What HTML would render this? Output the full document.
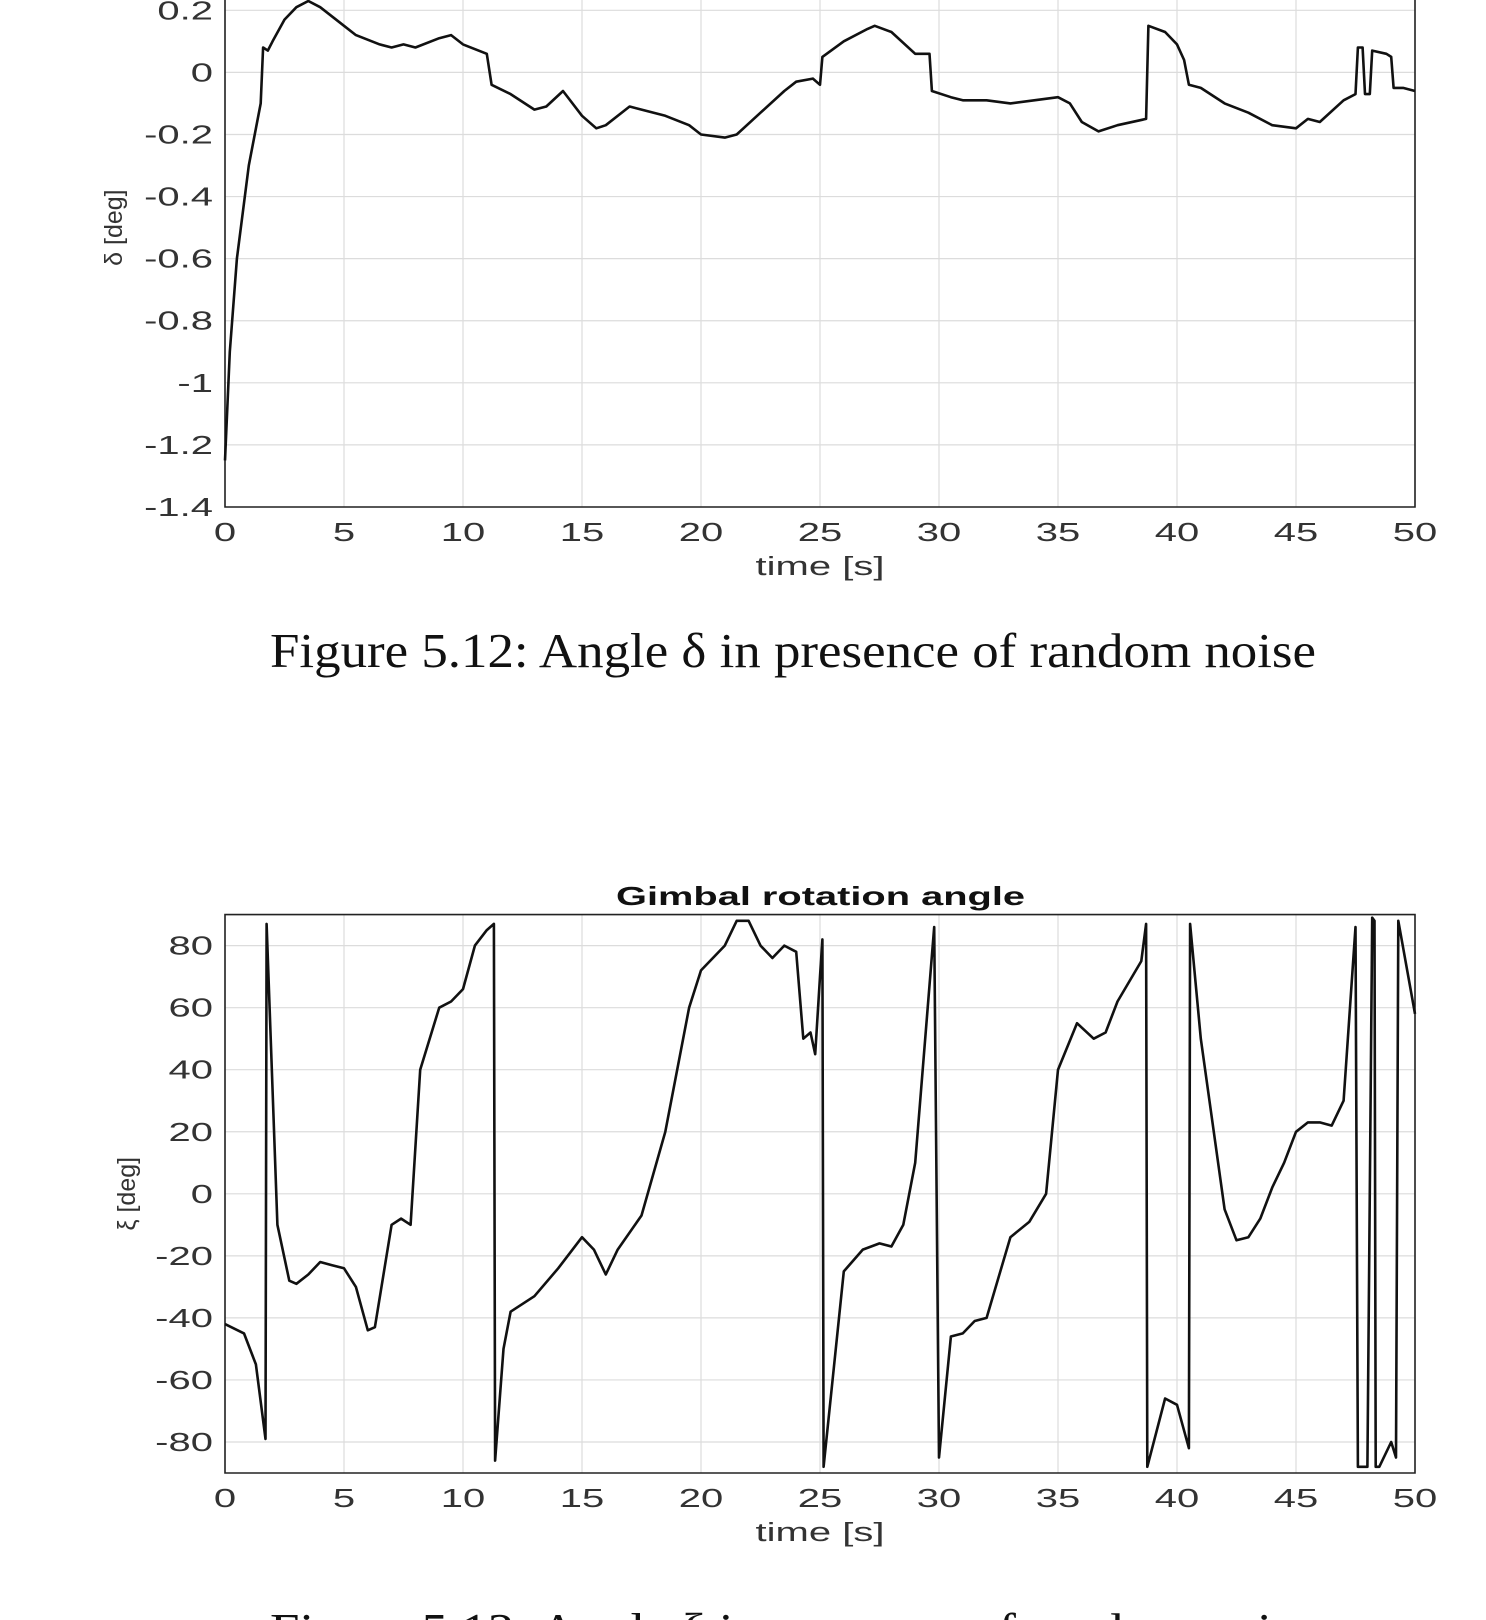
<!DOCTYPE html>
<html><head><meta charset="utf-8"><style>
html,body{margin:0;padding:0;background:#fff;}
svg{display:block;}
.tk{font-family:"Liberation Sans",sans-serif;font-size:25px;fill:#333;}
.cap{font-family:"Liberation Serif","DejaVu Serif",serif;font-size:49px;fill:#111;}
</style></head><body>
<svg id="svg" width="1486" height="1620" viewBox="0 0 1486 1620">
<text class="cap" x="270" y="667" textLength="1046" lengthAdjust="spacingAndGlyphs">Figure 5.12:  Angle δ in presence of random noise</text>
<text class="cap" x="270" y="1647" textLength="1046" lengthAdjust="spacingAndGlyphs">Figure 5.13:  Angle ξ in presence of random noise</text>
<text x="616" y="905" textLength="409" lengthAdjust="spacingAndGlyphs" style="font-family:'Liberation Sans',sans-serif;font-weight:bold;font-size:26px;fill:#111">Gimbal rotation angle</text>
</svg>
<script>
const xTicks=[0,5,10,15,20,25,30,35,40,45,50];
const d1Ticks=[0.2,0,-0.2,-0.4,-0.6,-0.8,-1,-1.2,-1.4];
const d1Labels=["0.2","0","-0.2","-0.4","-0.6","-0.8","-1","-1.2","-1.4"];
const deltaT=[0,0.2,0.5,1.0,1.5,1.6,1.8,2.0,2.5,3.0,3.5,4,5,5.5,6.5,7,7.5,8,9,9.5,10,11,11.2,12,13,13.5,14.2,15,15.6,16,17,17.5,18.5,19.5,20,21,21.5,22.5,23.5,24,24.7,25,25.1,26,27,27.3,28,29,29.6,29.7,30.5,31,32,33,34,35,35.5,36,36.7,37.5,38.7,38.8,39.5,40,40.3,40.5,41,42,43,44,45,45.5,46,47,47.5,47.6,47.8,47.9,48.1,48.2,48.8,49,49.1,49.5,50];
const deltaV=[-1.25,-0.9,-0.6,-0.3,-0.1,0.08,0.07,0.1,0.17,0.21,0.23,0.21,0.15,0.12,0.09,0.08,0.09,0.08,0.11,0.12,0.09,0.06,-0.04,-0.07,-0.12,-0.11,-0.06,-0.14,-0.18,-0.17,-0.11,-0.12,-0.14,-0.17,-0.2,-0.21,-0.2,-0.13,-0.06,-0.03,-0.02,-0.04,0.05,0.1,0.14,0.15,0.13,0.06,0.06,-0.06,-0.08,-0.09,-0.09,-0.1,-0.09,-0.08,-0.1,-0.16,-0.19,-0.17,-0.15,0.15,0.13,0.09,0.04,-0.04,-0.05,-0.1,-0.13,-0.17,-0.18,-0.15,-0.16,-0.09,-0.07,0.08,0.08,-0.07,-0.07,0.07,0.06,0.05,-0.05,-0.05,-0.06];
const xiTicks=[80,60,40,20,0,-20,-40,-60,-80];
const xiT=[0,0.8,1.3,1.7,1.75,2.2,2.7,3,3.5,4,4.5,5,5.5,6,6.3,7,7.4,7.8,8.2,9,9.5,10,10.5,11,11.3,11.35,11.7,12,13,14,15,15.5,16,16.5,17.5,18.5,19.5,20,21,21.5,22,22.5,23,23.5,24,24.3,24.6,24.8,25,25.1,25.15,26,26.8,27.5,28,28.5,29,29.8,30,30.5,31,31.5,32,33,33.8,34.5,35,35.8,36.5,37,37.5,38.5,38.7,38.75,39.5,40,40.5,40.55,41,42,42.5,43,43.5,44,44.5,45,45.5,46,46.5,47,47.5,47.6,48,48.2,48.3,48.35,48.5,49,49.2,49.3,50];
const xiV=[-42,-45,-55,-79,87,-10,-28,-29,-26,-22,-23,-24,-30,-44,-43,-10,-8,-10,40,60,62,66,80,85,87,-86,-50,-38,-33,-24,-14,-18,-26,-18,-7,20,60,72,80,88,88,80,76,80,78,50,52,45,70,82,-88,-25,-18,-16,-17,-10,10,86,-85,-46,-45,-41,-40,-14,-9,0,40,55,50,52,62,75,87,-88,-66,-68,-82,87,50,-5,-15,-14,-8,2,10,20,23,23,22,30,86,-88,-88,89,88,-88,-88,-80,-85,88,58];

const NS="http://www.w3.org/2000/svg";
const svg=document.getElementById('svg');
const SX=1.6;
function mk(tag,attrs,parent){const e=document.createElementNS(NS,tag);for(const k in attrs)e.setAttribute(k,attrs[k]);(parent||svg).appendChild(e);return e;}
function stext(g,x,y,anchor,str){
  return mk('text',{x:0,y:0,'text-anchor':anchor,class:'tk',transform:`translate(${x} ${y}) scale(${SX} 1.05)`},g);
}
function chart(pfx,L,R,T,B,ymin,ymax,yt,ylabs,xs,ys,ylab,ylabX){
  const g=mk('g',{});
  
  
  const sx=t=>L+(t-0)/(50-0)*(R-L);
  const sy=v=>B-(v-ymin)/(ymax-ymin)*(B-T);
  xTicks.forEach(t=>{
    const l=mk('line',{x1:sx(t),x2:sx(t),y1:T,y2:B,stroke:'#dcdcdc','stroke-width':1.2},g);
    
    
    const tx=stext(g,sx(t),B+34,'middle');
    tx.textContent=t;
    
    
  });
  yt.forEach((v,i)=>{
    const l=mk('line',{x1:L,x2:R,y1:sy(v),y2:sy(v),stroke:'#dcdcdc','stroke-width':1.2},g);
    
    
    const tx=stext(g,L-12,sy(v)+9,'end');
    tx.textContent=ylabs?ylabs[i]:v;
    
    
  });
  const ax=mk('path',{d:`M${L},${T}H${R}V${B}H${L}Z`,fill:'none',stroke:'#222','stroke-width':1.6},g);
  
  
  let d='';
  xs.forEach((t,i)=>{d+=(i?'L':'M')+sx(t).toFixed(1)+','+sy(ys[i]).toFixed(1);});
  const p=mk('path',{d:d,fill:'none',stroke:'#111','stroke-width':2.6,'stroke-linejoin':'round'},g);
  
  
  const xl=stext(g,(L+R)/2,B+68,'middle');
  xl.textContent='time [s]';
  
  
  const yl=mk('text',{x:ylabX,y:(T+B)/2,'text-anchor':'middle',class:'tk',transform:`rotate(-90 ${ylabX} ${(T+B)/2})`},g);
  yl.textContent=ylab;
  
  
}
chart('delta-chart',225,1415,72.4-0.4*310.5,507,-1.4,0.4,d1Ticks,d1Labels,deltaT,deltaV,'δ [deg]',122);
chart('xi-chart',225,1415,914.6,1473,-90,90,xiTicks,null,xiT,xiV,'ξ [deg]',135);
</script>
</body></html>
